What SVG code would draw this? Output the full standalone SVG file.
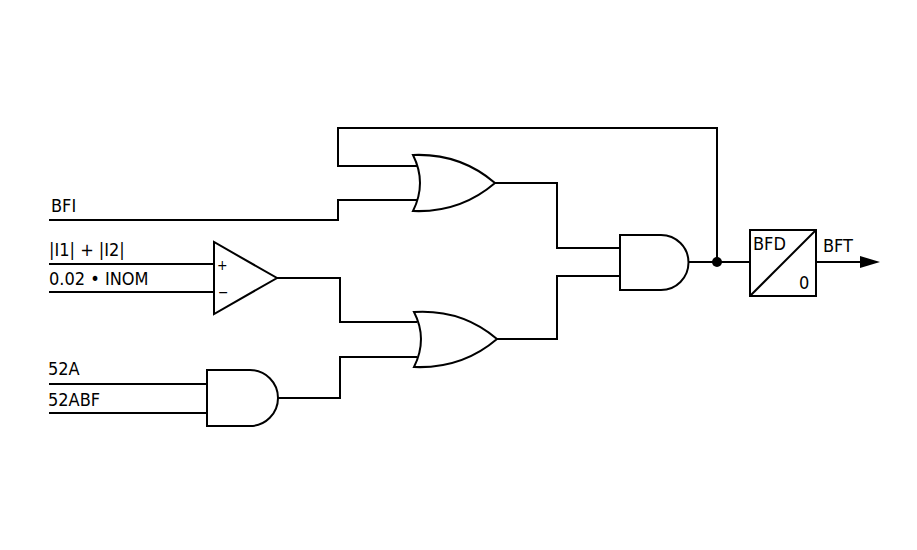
<svg xmlns="http://www.w3.org/2000/svg" width="917" height="550" viewBox="0 0 917 550">
<style>
.w{fill:none;stroke:#000;stroke-width:2}
.g{fill:#fff;stroke:#000;stroke-width:2}
text{font-family:"DejaVu Sans Condensed","DejaVu Sans",sans-serif;font-size:18px;fill:#000}
</style>
<rect width="917" height="550" fill="#fff"/>
<g id="connectors">
<polyline class="w" points="417,166 338,166 338,128 717,128 717,262"/>
<polyline class="w" points="49,220 338,220 338,200 417,200"/>
<polyline class="w" points="495,183 557,183 557,248 620,248"/>
<polyline class="w" points="497,339 557,339 557,276 620,276"/>
<line class="w" x1="49" y1="264" x2="214" y2="264"/>
<line class="w" x1="49" y1="292" x2="214" y2="292"/>
<polyline class="w" points="277,278 340,278 340,322 417,322"/>
<line class="w" x1="49" y1="384" x2="207" y2="384"/>
<line class="w" x1="49" y1="413" x2="207" y2="413"/>
<polyline class="w" points="278,398 340,398 340,357 417,357"/>
<line class="w" x1="688" y1="262" x2="750" y2="262"/>
<circle cx="717" cy="262" r="5" fill="#000"/>
<line class="w" x1="816" y1="262" x2="862" y2="262"/>
<polygon points="860,256 880,262 860,268" fill="#000"/>
</g>
<g id="labels">
<text x="51" y="212">BFI</text>
<text x="49" y="256">|I1| + |I2|</text>
<text x="49" y="285">0.02 • INOM</text>
<text x="48" y="375">52A</text>
<text x="48" y="406">52ABF</text>
<text x="823" y="252">BFT</text>
</g>
<g id="or1"><path class="g" d="M413,155 Q460,153 495,183 Q460,213 413,211 Q427,183 413,155 Z"/></g>
<g id="or2"><path class="g" d="M414,312 Q462,309 497,339 Q462,369 414,367 Q428,339 414,312 Z"/></g>
<g id="comparator"><polygon class="g" points="214,242 214,314 277,278"/>
<text x="217" y="270" style="font-size:14px">+</text><text x="218" y="297" style="font-size:14px">−</text></g>
<g id="and1"><path class="g" d="M207,370 H250 A28,28 0 0 1 250,426 H207 Z"/></g>
<g id="and2"><path class="g" d="M620,235 H661 A27.5,27.5 0 0 1 661,290 H620 Z"/></g>
<g id="timer"><rect class="g" x="750" y="230" width="66" height="66"/>
<line class="w" x1="750" y1="296" x2="816" y2="230"/>
<text x="753" y="250">BFD</text><text x="799" y="289">0</text></g>
</svg>
